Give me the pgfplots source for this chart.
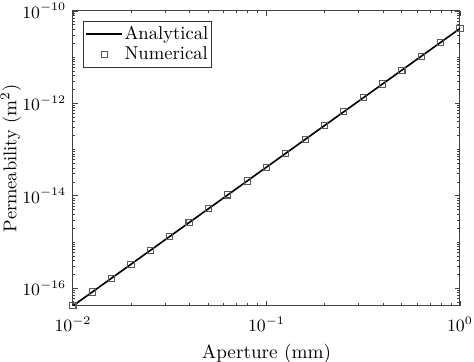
\documentclass[border=0pt]{standalone}
\usepackage{pgfplots}
\pgfplotsset{compat=1.18}
\pgfplotsset{
 linelegend/.style={legend image code/.code={\draw[##1] (0cm,0cm) -- (0.66cm,0cm);}},
 marklegend/.style={legend image code/.code={\draw[##1] plot coordinates {(0.33cm,0cm)};}},
}
\pgfplotstableread{
x y
0.01 4.17e-17
0.012589 8.32e-17
0.015849 1.660e-16
0.019953 3.312e-16
0.025119 6.609e-16
0.031623 1.3187e-15
0.039811 2.631e-15
0.050119 5.250e-15
0.063096 1.0475e-14
0.079433 2.090e-14
0.1 4.17e-14
0.12589 8.32e-14
0.15849 1.660e-13
0.19953 3.312e-13
0.25119 6.609e-13
0.31623 1.3187e-12
0.39811 2.631e-12
0.50119 5.250e-12
0.63096 1.0475e-11
0.79433 2.090e-11
1 4.17e-11
}\datatable
\begin{document}
\begin{tikzpicture}
\begin{axis}[
 scale only axis, width=201.6pt, height=153.6pt,
 xmode=log, ymode=log,
 xmin=0.01, xmax=1, ymin=4.17e-17, ymax=1e-10,
 xtick={0.01,0.1,1}, ytick={1e-16,1e-14,1e-12,1e-10},
 minor ytick={5e-17,6e-17,7e-17,8e-17,9e-17,
 2e-16,3e-16,4e-16,5e-16,6e-16,7e-16,8e-16,9e-16,
 1e-15,2e-15,3e-15,4e-15,5e-15,6e-15,7e-15,8e-15,9e-15,
 2e-14,3e-14,4e-14,5e-14,6e-14,7e-14,8e-14,9e-14,
 1e-13,2e-13,3e-13,4e-13,5e-13,6e-13,7e-13,8e-13,9e-13,
 2e-12,3e-12,4e-12,5e-12,6e-12,7e-12,8e-12,9e-12,
 1e-11,2e-11,3e-11,4e-11,5e-11,6e-11,7e-11,8e-11,9e-11},
 tick align=inside,
 major tick length=2.5pt, minor tick length=1.3pt,
 axis line style={black!75, line width=0.5pt},
 every tick/.style={black!75, line width=0.4pt},
 tick label style={font=\fontsize{8.8}{10.5}\selectfont},
 xticklabel style={yshift=-2.4pt},
 xlabel={Aperture (mm)},
 ylabel={Permeability ($\mathrm{m}^2$)},
 xlabel style={inner sep=0pt, yshift=-2.7pt},
 ylabel style={inner sep=0pt, font=\fontsize{9.6}{11}\selectfont},
 ylabel shift=-2.8pt,
 legend style={at={(0.026,0.967)}, anchor=north west, draw=black!80, fill=white,
   inner xsep=1pt, inner ysep=0.5pt, row sep=-1.5pt,
   font=\fontsize{9.7}{11}\selectfont,
   nodes={inner xsep=0.8pt}},
 legend cell align=left,
]
\addplot[black, line width=0.85pt, no markers, linelegend] table[x=x,y=y]{\datatable};
\addlegendentry{Analytical}
\addplot[only marks, mark=square, mark size=1.6pt, mark options={draw=black!65, line width=0.55pt}, marklegend]
  table[x=x,y=y]{\datatable};
\addlegendentry{Numerical}
\end{axis}
\pgfresetboundingbox
\path[use as bounding box] ([xshift=-38pt,yshift=-29pt]current axis.south west) rectangle ([xshift=7.3pt,yshift=5.7pt]current axis.north east);
\end{tikzpicture}
\end{document}
